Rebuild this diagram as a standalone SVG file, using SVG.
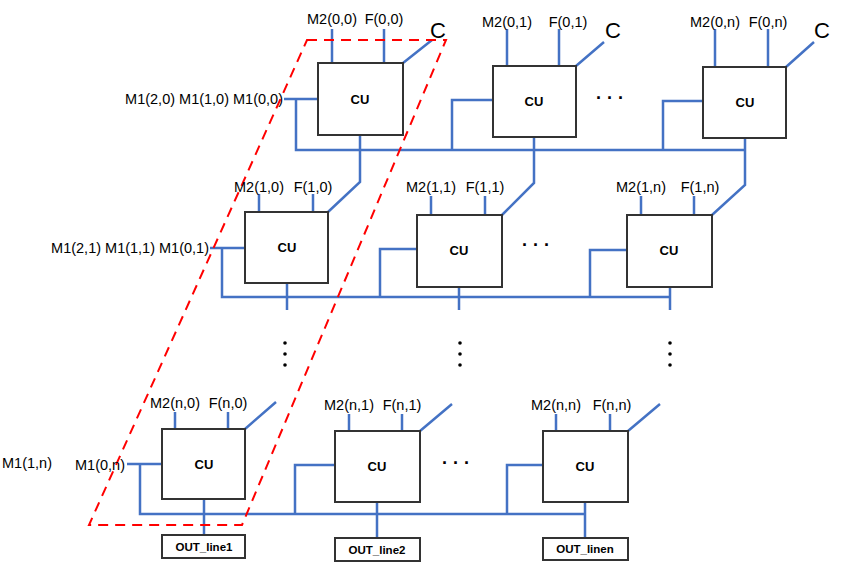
<svg xmlns="http://www.w3.org/2000/svg" width="842" height="566" viewBox="0 0 842 566">
<style>
.b{fill:#fff;stroke:#333;stroke-width:2}
.w{fill:none;stroke:#4472c4;stroke-width:2.5}
.t{font-family:"Liberation Sans",Arial,sans-serif;font-size:14.5px;fill:#000}
.cu{font-family:"Liberation Sans",Arial,sans-serif;font-size:13px;font-weight:bold;text-anchor:middle}
.m{text-anchor:middle}
.c{font-family:"Liberation Sans",Arial,sans-serif;font-size:22px}
.o{font-family:"Liberation Sans",Arial,sans-serif;font-size:11.5px;font-weight:bold;text-anchor:middle}
.d{font-family:"Liberation Sans",Arial,sans-serif;font-size:18px;font-weight:bold}
</style>
<rect width="842" height="566" fill="#fff"/>
<g id="connectors" class="w">
<path d="M284 99H318M296 99V150H745M452 150V100H493M663 150V101H703"/>
<path d="M332 29V63M384 29V63M403 63L432 40"/>
<path d="M507 29V66M559 29V66M576 66L604 42"/>
<path d="M715 29V67M768 29V67M786 67L814 42"/>
<path d="M360 135V182L328 212M534 137V183L502 215M745 138V185L712 215"/>
<path d="M210 248H245M222 248V297H670M380 297V249H417M590 297V250H627"/>
<path d="M259 194V212M313 194V212M431 196V215M485 196V215M641 196V215M694 196V215"/>
<path d="M287 283V310M459 287V310M670 287V310"/>
<path d="M127 464H162M140 464V514H585M295 514V465H335M507 514V465H543"/>
<path d="M175 412V429M228 412V429M245 429L276 402"/>
<path d="M349 414V431M402 414V431M420 431L452 404"/>
<path d="M556 414V431M610 414V431M628 431L660 404"/>
<path d="M204 499V535M377 502V538M585 502V538"/>
</g>
<path d="M307 40H446L242 525H89Z" fill="none" stroke="#f00" stroke-width="2" stroke-dasharray="10,7"/>
<g id="cu00"><rect class="b" x="318" y="63" width="85" height="72"/><text class="cu" x="360" y="104">CU</text></g>
<g id="cu01"><rect class="b" x="493" y="66" width="83" height="71"/><text class="cu" x="534" y="106">CU</text></g>
<g id="cu0n"><rect class="b" x="703" y="67" width="83" height="71"/><text class="cu" x="745" y="107">CU</text></g>
<g id="cu10"><rect class="b" x="245" y="212" width="83" height="71"/><text class="cu" x="287" y="252">CU</text></g>
<g id="cu11"><rect class="b" x="417" y="215" width="85" height="72"/><text class="cu" x="459" y="255">CU</text></g>
<g id="cu1n"><rect class="b" x="627" y="215" width="85" height="72"/><text class="cu" x="669" y="255">CU</text></g>
<g id="cun0"><rect class="b" x="162" y="429" width="83" height="70"/><text class="cu" x="204" y="469">CU</text></g>
<g id="cun1"><rect class="b" x="335" y="431" width="85" height="71"/><text class="cu" x="377" y="471">CU</text></g>
<g id="cunn"><rect class="b" x="543" y="431" width="85" height="71"/><text class="cu" x="585" y="471">CU</text></g>
<g id="out1"><rect class="b" x="162" y="535" width="83" height="23"/><text class="o" x="204" y="551">OUT_line1</text></g>
<g id="out2"><rect class="b" x="335" y="538" width="85" height="23"/><text class="o" x="377" y="554">OUT_line2</text></g>
<g id="outn"><rect class="b" x="543" y="538" width="85" height="22"/><text class="o" x="585" y="553">OUT_linen</text></g>
<g id="labels" class="t">
<text x="283" y="104" text-anchor="end">M1(2,0)  M1(1,0)  M1(0,0)</text>
<text x="209" y="253" text-anchor="end">M1(2,1)  M1(1,1)  M1(0,1)</text>
<text x="2" y="468">M1(1,n)</text>
<text x="125" y="470" text-anchor="end">M1(0,n)</text>
<text class="m" x="332" y="24">M2(0,0)</text><text class="m" x="384" y="24">F(0,0)</text>
<text class="m" x="507" y="27">M2(0,1)</text><text class="m" x="568" y="27">F(0,1)</text>
<text class="m" x="715" y="27">M2(0,n)</text><text class="m" x="768" y="27">F(0,n)</text>
<text class="m" x="259" y="192">M2(1,0)</text><text class="m" x="313" y="192">F(1,0)</text>
<text class="m" x="431" y="192">M2(1,1)</text><text class="m" x="485" y="192">F(1,1)</text>
<text class="m" x="641" y="192">M2(1,n)</text><text class="m" x="700" y="192">F(1,n)</text>
<text class="m" x="175" y="408">M2(n,0)</text><text class="m" x="228" y="408">F(n,0)</text>
<text class="m" x="349" y="410">M2(n,1)</text><text class="m" x="402" y="410">F(n,1)</text>
<text class="m" x="556" y="410">M2(n,n)</text><text class="m" x="612" y="410">F(n,n)</text>
</g>
<g class="c"><text x="430" y="38">C</text><text x="605" y="38">C</text><text x="814" y="38">C</text></g>
<g class="d">
<text x="596" y="104">· · ·</text><text x="522" y="251">· · ·</text><text x="442" y="469">· · ·</text>
</g>
<g fill="#000">
<circle cx="285" cy="343" r="1.8"/><circle cx="285" cy="354" r="1.8"/><circle cx="285" cy="365" r="1.8"/>
<circle cx="460" cy="343" r="1.8"/><circle cx="460" cy="354" r="1.8"/><circle cx="460" cy="365" r="1.8"/>
<circle cx="670" cy="343" r="1.8"/><circle cx="670" cy="354" r="1.8"/><circle cx="670" cy="365" r="1.8"/>
</g>
</svg>
